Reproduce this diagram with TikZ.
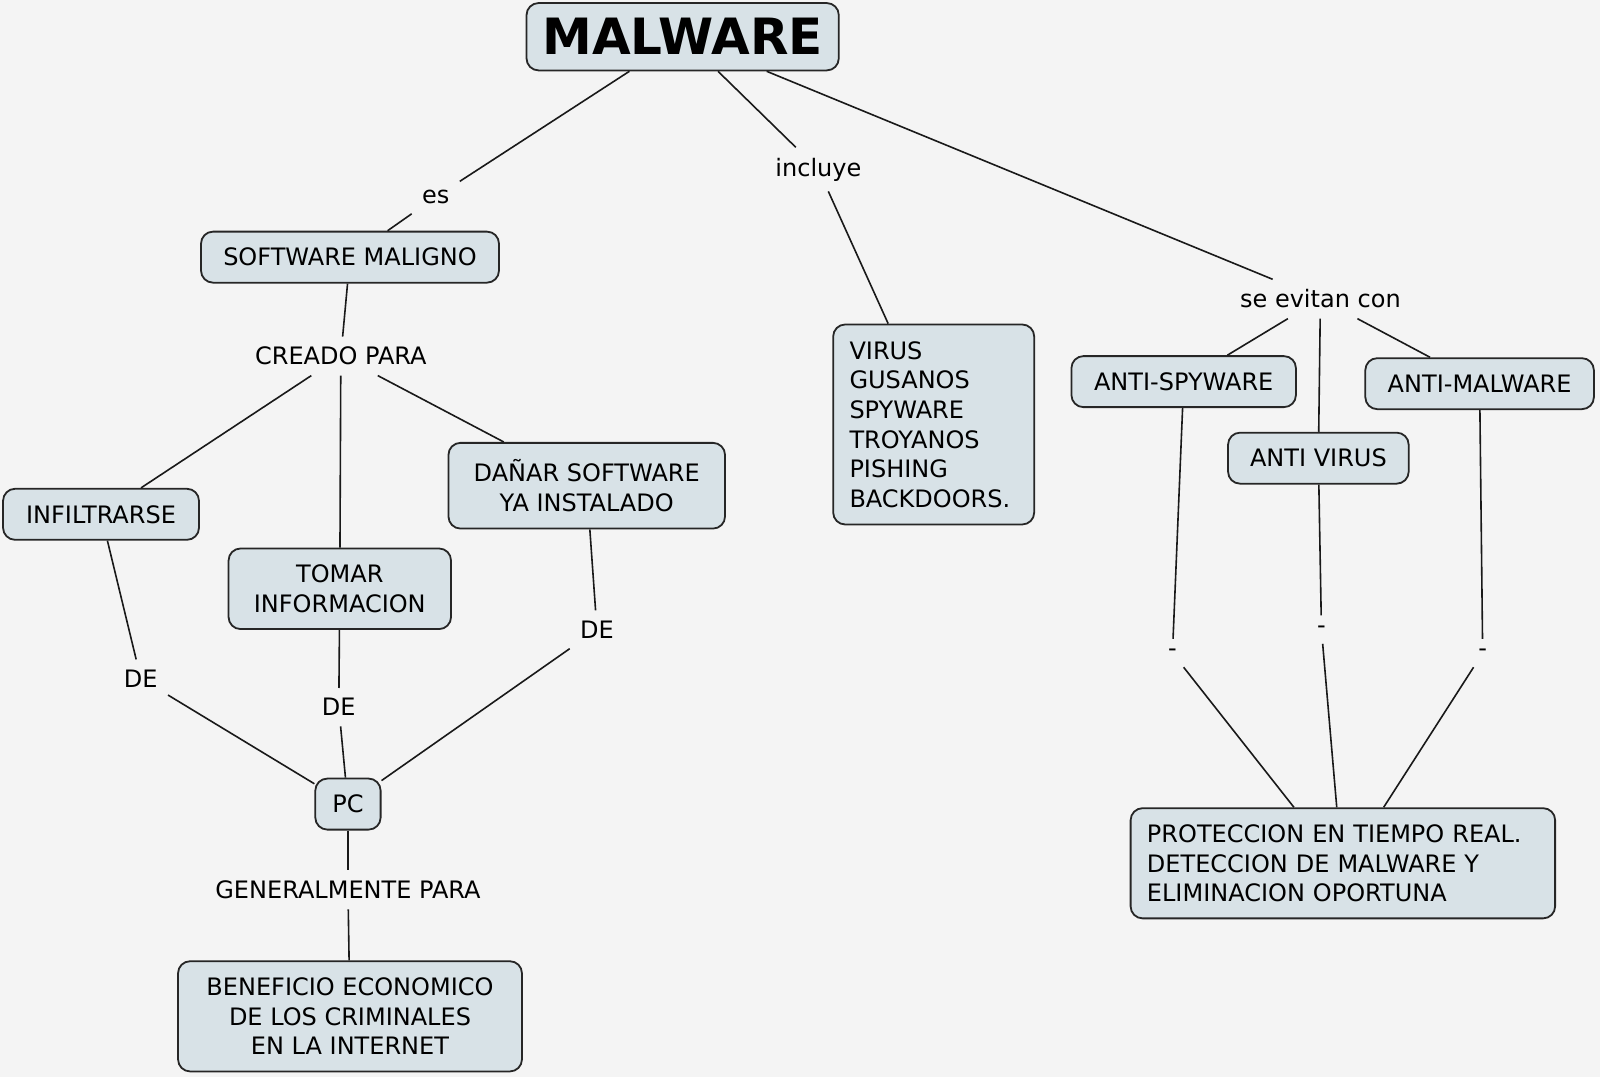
\documentclass[tikz,border=0pt]{standalone}
\usepackage{fontspec}
\setmainfont{DejaVu Sans}
\def\u{0.5102pt}
\begin{document}
\begin{tikzpicture}[x=0.5102pt,y=-0.5102pt,
  box/.style={draw=black!85,line width=0.9pt,fill=boxc,rounded corners=6pt,font=\fontsize{12}{14.8}\selectfont,align=center,inner sep=0pt},
  lab/.style={font=\fontsize{12}{14}\selectfont,inner sep=5pt},
  ln/.style={line width=0.8pt,black!90}]
\definecolor{boxc}{HTML}{D8E2E7}
\definecolor{bgc}{HTML}{F4F4F4}
\fill[bgc] (0,0) rectangle (1568,1055);
\useasboundingbox (0,0) rectangle (1568,1055);
% nodes
\node[box,minimum width=306*\u,minimum height=66*\u,font=\fontsize{25}{28}\selectfont\bfseries] (mal) at (669,36) {MALWARE};
\node[box,minimum width=292*\u,minimum height=50*\u] (sw) at (343,252) {SOFTWARE MALIGNO};
\node[box,minimum width=192*\u,minimum height=50*\u] (inf) at (99,504) {INFILTRARSE};
\node[box,minimum width=218*\u,minimum height=79*\u] (tom) at (333,577) {TOMAR\\INFORMACION};
\node[box,minimum width=271*\u,minimum height=84*\u] (dan) at (575,476) {DAÑAR SOFTWARE\\YA INSTALADO};
\node[box,minimum width=64*\u,minimum height=50*\u] (pc) at (341,788) {PC};
\node[box,minimum width=337*\u,minimum height=108*\u] (ben) at (343,996) {BENEFICIO ECONOMICO\\DE LOS CRIMINALES\\EN LA INTERNET};
\node[box,minimum width=197*\u,minimum height=196*\u,align=left,text width=165*\u] (vir) at (915,416) {VIRUS\\GUSANOS\\SPYWARE\\TROYANOS\\PISHING\\BACKDOORS.};
\node[box,minimum width=220*\u,minimum height=50*\u] (asp) at (1160,374) {ANTI-SPYWARE};
\node[box,minimum width=177*\u,minimum height=50*\u] (av) at (1292,449) {ANTI VIRUS};
\node[box,minimum width=224*\u,minimum height=50*\u] (am) at (1450,376) {ANTI-MALWARE};
\node[box,minimum width=416*\u,minimum height=108*\u,align=left,text width=384*\u] (pro) at (1316,846) {PROTECCION EN TIEMPO REAL.\\DETECCION DE MALWARE Y\\ELIMINACION OPORTUNA};
% labels
\node[lab] (es) at (427,193) {es};
\node[lab] (inc) at (802,166) {incluye};
\node[lab] (sec) at (1294,293) {se evitan con};
\node[lab] (cre) at (334,349) {CREADO PARA};
\node[lab] (de1) at (138,665) {DE};
\node[lab] (de2) at (332,693) {DE};
\node[lab] (de3) at (585,617) {DE};
\node[lab] (gen) at (341,872) {GENERALMENTE PARA};
\node[lab] (d1) at (1149,640) {-};
\node[lab] (d2) at (1295,617) {-};
\node[lab] (d3) at (1453,640) {-};
% connectors
\draw[ln] (mal) -- (es);  \draw[ln] (es) -- (sw);
\draw[ln] (mal) -- (inc); \draw[ln] (inc) -- (vir);
\draw[ln] (mal) -- (sec);
\draw[ln] (sec) -- (asp); \draw[ln] (sec) -- (av); \draw[ln] (sec) -- (am);
\draw[ln] (sw) -- (cre);
\draw[ln] (cre) -- (inf); \draw[ln] (cre) -- (tom); \draw[ln] (cre) -- (dan);
\draw[ln] (inf) -- (de1); \draw[ln] (de1) -- (pc);
\draw[ln] (tom) -- (de2); \draw[ln] (de2) -- (pc);
\draw[ln] (dan) -- (de3); \draw[ln] (de3) -- (pc);
\draw[ln] (pc) -- (gen); \draw[ln] (gen) -- (ben);
\draw[ln] (asp) -- (d1); \draw[ln] (d1) -- (pro.north west -| 1268,0);
\draw[ln] (av) -- (d2);  \draw[ln] (d2) -- (pro.north west -| 1310,0);
\draw[ln] (am) -- (d3);  \draw[ln] (d3) -- (pro.north west -| 1356,0);
\end{tikzpicture}
\end{document}
